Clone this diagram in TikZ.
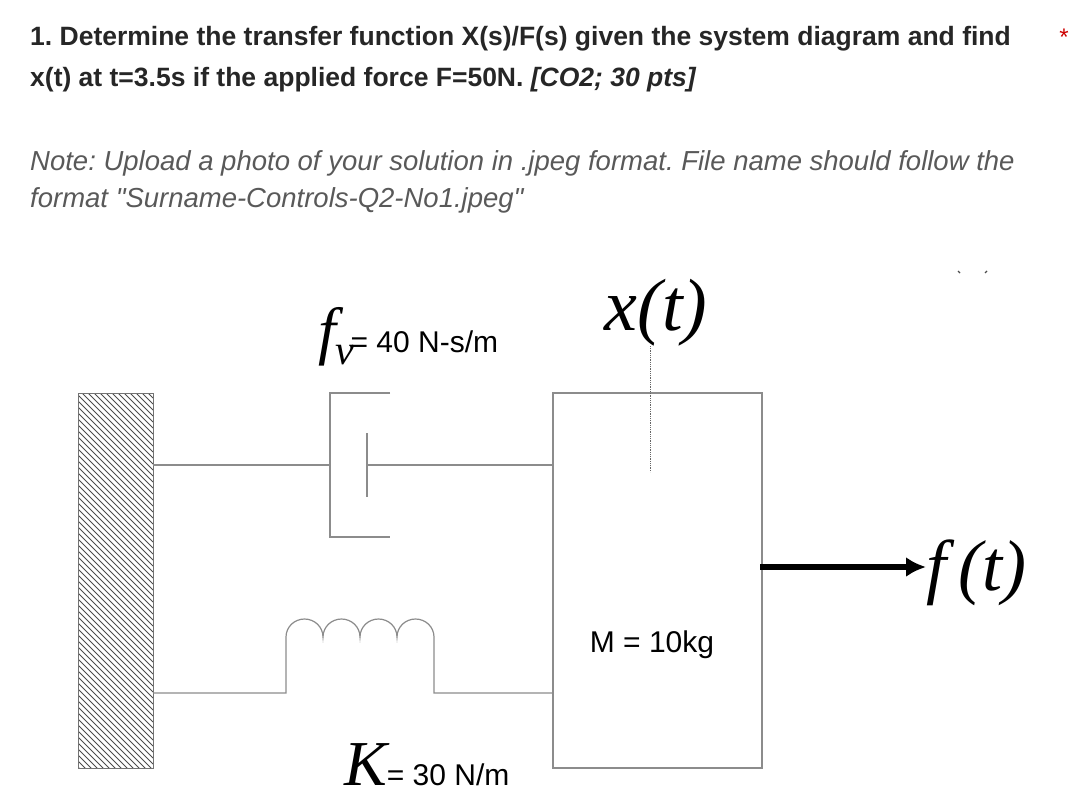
\documentclass[tikz,border=0pt]{standalone}
\usepackage{fontspec}
\usetikzlibrary{arrows.meta}
\setmainfont{Liberation Sans}
\newfontfamily\tms{Liberation Serif}
\begin{document}
\frenchspacing
\begin{tikzpicture}[x=1pt,y=-1pt,
  mech/.style={draw=black!45,line width=1.2pt},
  head/.style={anchor=base west,inner sep=0pt,font=\bfseries\fontsize{26.5}{30}\selectfont,text=black!85},
  note/.style={anchor=base west,inner sep=0pt,font=\itshape\fontsize{27.5}{30}\selectfont,text=black!65},
  lbl/.style={inner sep=0pt,font=\fontsize{30}{34}\selectfont}]
\useasboundingbox (0,0) rectangle (1080,801);
\node[head] (h1) at (30,45) {1. Determine the transfer function X(s)/F(s) given the system diagram and find};
\node[head] (h2) at (30,86) {x(t) at t=3.5s if the applied force F=50N. \textit{[CO2; 30 pts]}};
\node[anchor=base,text=red!80!black,font=\fontsize{24}{26}\selectfont,inner sep=0pt] (star) at (1064,45) {*};
\node[note] (n1) at (30,170) {Note: Upload a photo of your solution in .jpeg format. File name should follow the};
\node[note] (n2) at (30,207) {format \textquotedbl Surname-Controls-Q2-No1.jpeg\textquotedbl};
% wall
\begin{scope}
\clip (78,393) rectangle (153,768);
\foreach \i in {-100,-94,...,400} \draw[black!70,line width=1pt] (78,393+\i) -- (153,468+\i);
\end{scope}
\node[draw=black!55,line width=1pt,minimum width=75pt,minimum height=375pt,inner sep=0pt] (wall) at (115.5,580.5) {};
% mass
\node[mech,minimum width=209pt,minimum height=375pt,inner sep=0pt] (mass) at (657.5,580.5) {};
\node[lbl] (m) at (652,645) {M = 10kg};
% damper
\coordinate (d1) at (153,465);
\coordinate (d2) at (330,465);
\coordinate (p) at (367,465);
\coordinate (d3) at (553,465);
\draw[mech] (d1) -- (d2);
\draw[mech] (390,393) -- (330,393) -- (330,537) -- (390,537);
\draw[mech] (367,433) -- (367,497);
\draw[mech] (p) -- (d3);
% spring
\coordinate (s1) at (153,693);
\coordinate (s2) at (553,693);
\draw[mech] (s1) -- (286,693) -- (286,637)
  arc[start angle=180,end angle=0,x radius=18.5,y radius=-18]
  arc[start angle=180,end angle=0,x radius=18.5,y radius=-18]
  arc[start angle=180,end angle=0,x radius=18.5,y radius=-18]
  arc[start angle=180,end angle=0,x radius=18.5,y radius=-18]
  -- (434,693) -- (s2);
% labels
\node[lbl,anchor=base west] (fv) at (318,352) {{\tms\itshape\fontsize{64}{66}\selectfont f}\raisebox{-12pt}{\tms\itshape\fontsize{42}{44}\selectfont v}\hspace{-4pt}= 40 N-s/m};
\node[lbl,anchor=base west] (K) at (344,785) {{\tms\itshape\fontsize{64}{66}\selectfont K}= 30 N/m};
\node[inner sep=0pt,anchor=base,font=\tms\itshape\fontsize{74}{78}\selectfont] (xt) at (656,330) {x(t)};
\coordinate (xa) at (650,346);
\coordinate (xb) at (650,472);
\draw[black!60,densely dotted,line width=0.8pt] (xa) -- (xb);
% force
\coordinate (fa) at (760,567);
\node[inner sep=0pt,anchor=base west,font=\tms\itshape\fontsize{72}{76}\selectfont] (ft) at (926,590) {f\,(t)};
\draw[line width=6pt,-{Latex[length=20pt,width=20pt]}] (fa) -- (fa -| ft.west);
% small marks
\draw[black!70,line width=1.2pt] (958,271) -- (960,273) (985,273) -- (987,271);
\end{tikzpicture}
\end{document}
